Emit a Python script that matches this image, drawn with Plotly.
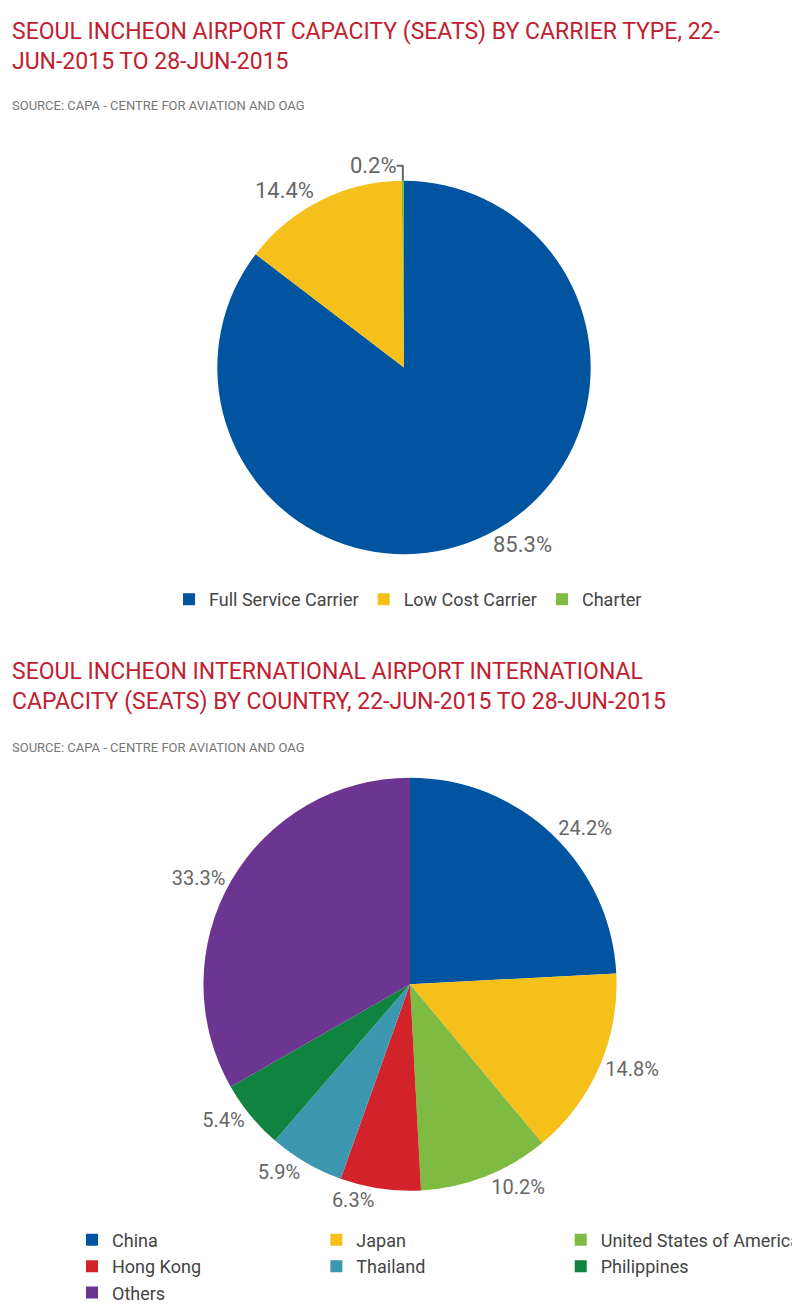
import plotly.graph_objects as go

carrier_labels = ["Full Service Carrier", "Low Cost Carrier", "Charter"]
carrier_values = [85.3, 14.4, 0.2]
carrier_colors = ["#0054a0", "#f5c01a", "#7fba42"]

country_labels = ["China", "Japan", "United States of America", "Hong Kong", "Thailand", "Philippines", "Others"]
country_values = [24.2, 14.8, 10.2, 6.3, 5.9, 5.4, 33.3]
country_colors = ["#0054a0", "#f5c01a", "#7fba42", "#d2232a", "#3e97b0", "#0f833f", "#6b3591"]

FONT = "Roboto, sans-serif"
H = 1304

def py(pix):
    return 1 - pix / H

fig = go.Figure()
fig.add_trace(go.Pie(
    labels=carrier_labels, values=carrier_values, marker=dict(colors=carrier_colors),
    sort=False, direction="clockwise", rotation=0,
    textposition="outside", texttemplate="%{value:.1f}%", textfont=dict(size=22, color="#666"),
    domain=dict(x=[208/800, 584/800], y=[py(550), py(174)]), legend="legend", showlegend=True,
))
fig.add_trace(go.Pie(
    labels=country_labels, values=country_values, marker=dict(colors=country_colors),
    sort=False, direction="clockwise", rotation=0,
    textposition="outside", texttemplate="%{value:.1f}%", textfont=dict(size=20, color="#666"),
    domain=dict(x=[194/800, 610/800], y=[py(1191), py(775)]), legend="legend2", showlegend=True,
))

red = "#c0202f"
anns = [
    dict(text="SEOUL INCHEON AIRPORT CAPACITY (SEATS) BY CARRIER TYPE, 22-<br>JUN-2015 TO 28-JUN-2015", y=py(8), size=23, color=red),
    dict(text="SOURCE: CAPA - CENTRE FOR AVIATION AND OAG", y=py(89), size=13, color="#777"),
    dict(text="SEOUL INCHEON INTERNATIONAL AIRPORT INTERNATIONAL<br>CAPACITY (SEATS) BY COUNTRY, 22-JUN-2015 TO 28-JUN-2015", y=py(652), size=23, color=red),
    dict(text="SOURCE: CAPA - CENTRE FOR AVIATION AND OAG", y=py(735), size=13, color="#777"),
]
for a in anns:
    fig.add_annotation(text=a["text"], x=0.003, y=a["y"], xref="paper", yref="paper",
                       xanchor="left", yanchor="top", align="left", showarrow=False,
                       font=dict(family=FONT, size=a["size"], color=a["color"]))

fig.update_layout(
    width=800, height=H, margin=dict(l=0, r=0, t=0, b=0),
    paper_bgcolor="white", font=dict(family=FONT),
    legend=dict(orientation="h", x=0.5, xanchor="center", y=py(577), yanchor="top",
                font=dict(size=18, color="#444"), traceorder="normal"),
    legend2=dict(orientation="h", x=0.08, xanchor="left", y=py(1222), yanchor="top",
                 font=dict(size=18, color="#444"), traceorder="normal"),
)
fig.write_html("out.html")
